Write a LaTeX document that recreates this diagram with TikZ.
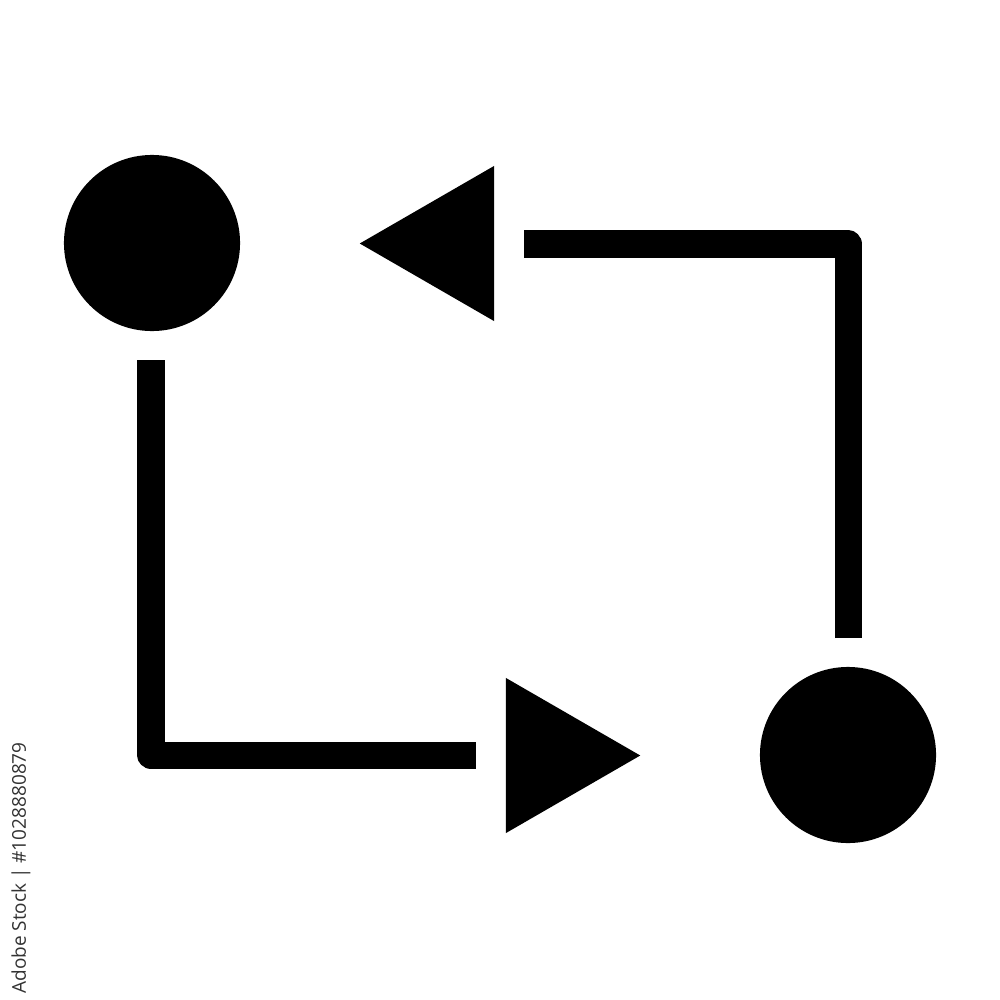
\documentclass[tikz,border=0pt]{standalone}
\usepackage{fontspec}
\setsansfont{Open Sans}
\usetikzlibrary{shapes.geometric}

\begin{document}
\begin{tikzpicture}[x=0.01cm,y=-0.01cm,font=\sffamily,
 dot/.style={circle,fill=black,inner sep=0pt,outer sep=0pt,minimum size=1.76cm},
 tri/.style={regular polygon,regular polygon sides=3,fill=black,inner sep=0pt,
 outer sep=0pt,minimum size=1.79cm,rotate=#1},
 flow/.style={line width=\mylinewidth,line cap=butt,line join=round},
 ]
 \def\mylinewidth{0.27cm}
 \useasboundingbox[fill=white] (0,0) rectangle (1000,1000);
 % the two end points
 \node[dot] (start) at (152,243) {};
 \node[dot] (stop) at (848,755) {};
 % arrow heads
 \node[tri=-90] (fwd) at (550.7,755.5) {};
 \node[tri=90] (back) at (449.3,243.5) {};
 % free ends of the two paths
 \coordinate (a1) at (151,360);
 \coordinate (a2) at (476,755);
 \coordinate (b1) at (848,638);
 \coordinate (b2) at (524,244);
 \draw[flow] (a1) |- (a2);
 \draw[flow] (b1) |- (b2);
 % stock label
 \node[rotate=90,text=black!80,font=\sffamily\fontsize{5.4pt}{6pt}\selectfont,
 inner sep=0pt] (mark) at (21,868) {Adobe Stock | \#1028880879};
\end{tikzpicture}
\end{document}
